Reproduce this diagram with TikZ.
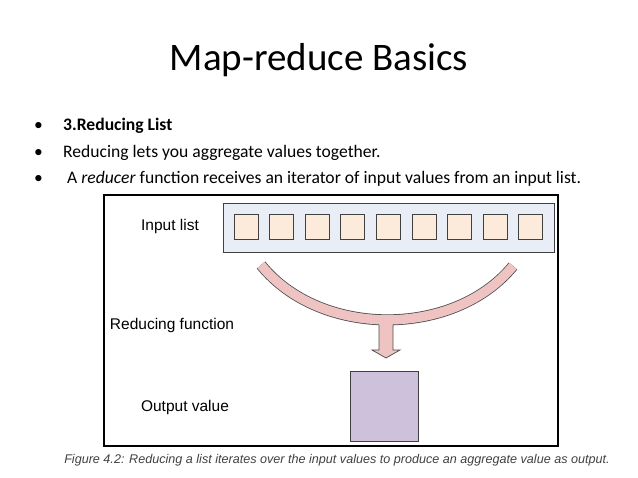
\documentclass[tikz,border=0pt]{standalone}
\usepackage{fontspec}
\setmainfont{Carlito}
\newfontfamily\arialf{Liberation Sans}
\definecolor{listbg}{HTML}{E9EDF5}
\definecolor{itembg}{HTML}{FCEBDB}
\definecolor{outbg}{HTML}{CDC1DB}
\definecolor{bandc}{HTML}{F0C3C3}
\begin{document}
\begin{tikzpicture}[x=1pt,y=-1pt,
  lbl/.style={font=\arialf\fontsize{15.5}{18}\selectfont,inner sep=0},
  bul/.style={font=\fontsize{17.6}{21}\selectfont,anchor=west,inner sep=0},
  item/.style={draw=black!75,fill=itembg,line width=0.8pt,minimum width=24pt,minimum height=25pt,inner sep=0}]
\useasboundingbox (0,0) rectangle (638,478);
\node[font=\fontsize{39}{46}\selectfont,inner sep=0] (title) at (319,60) {Map-reduce Basics};
\node[bul] (b1d) at (34,126) {•};
\node[bul] (b1) at (63,126) {\textbf{3.Reducing List}};
\node[bul] (b2d) at (34,153) {•};
\node[bul] (b2) at (63,153) {Reducing lets you aggregate values together.};
\node[bul] (b3d) at (34,179) {•};
\node[bul] (b3) at (63,179) {\ A \textit{reducer} function receives an iterator of input values from an input list.};
\node[draw,line width=1.2pt,minimum width=454pt,minimum height=251pt,inner sep=0] (frame) at (331,320.5) {};
\node[draw=black!75,fill=listbg,line width=0.8pt,minimum width=331pt,minimum height=49pt,inner sep=0] (list) at (388.5,227.5) {};
\foreach \i in {0,...,8}{
  \node[item] (it\i) at ({246+35.6*\i},226.5) {};
}
\node[lbl] (lin) at (170,226) {Input list};
\node[lbl] (lrf) at (172,325) {Reducing function};
\node[lbl] (lov) at (185,407) {Output value};
\coordinate (bl) at (261,265);
\coordinate (br) at (513,266);
\draw[line width=11pt,black!70] (bl) .. controls (320,338) and (454,338) .. (br);
\draw[line width=9.4pt,bandc] (bl) .. controls (320,338) and (454,338) .. (br);
\fill[bandc,draw=black!70,line width=0.7pt] (379,324) -- (379,350) -- (372,350) -- (386,358) -- (400,350) -- (393,350) -- (393,324);
\fill[bandc] (379.4,318) rectangle (392.6,325);
\node[draw=black!75,fill=outbg,line width=0.8pt,minimum width=68pt,minimum height=70pt,inner sep=0] (out) at (384,406) {};
\node[font=\arialf\itshape\fontsize{12.6}{15}\selectfont,text=black!75,inner sep=0] (cap) at (337,460) {Figure 4.2: Reducing a list iterates over the input values to produce an aggregate value as output.};
\end{tikzpicture}
\end{document}
